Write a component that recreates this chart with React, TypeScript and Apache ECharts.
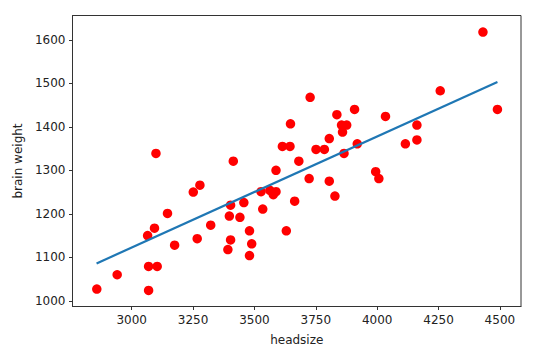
import React, { useEffect, useRef } from "react";
import * as echarts from "echarts";

const headsize = [
  2858, 2941, 3069, 3069, 3104, 3065, 3093, 3099, 3146, 3175,
  3251, 3278, 3267, 3322, 3392, 3403, 3398, 3403, 3414, 3441,
  3457, 3480, 3480, 3489, 3527, 3534, 3563, 3577, 3588, 3588,
  3614, 3645, 3647, 3630, 3664, 3681, 3727, 3723, 3751, 3785,
  3805, 3805, 3828, 3836, 3855, 3876, 3859, 3865, 3908, 3919,
  3994, 4007, 4034, 4115, 4162, 4162, 4257, 4431, 4490,
];
const brainWeight = [
  1027, 1060, 1024, 1079, 1079, 1150, 1167, 1339, 1201, 1128,
  1250, 1266, 1143, 1174, 1118, 1140, 1195, 1220, 1321, 1192,
  1226, 1161, 1104, 1131, 1251, 1211, 1254, 1244, 1251, 1300,
  1355, 1355, 1407, 1161, 1229, 1321, 1468, 1281, 1348, 1348,
  1373, 1275, 1241, 1428, 1404, 1404, 1388, 1339, 1440, 1361,
  1297, 1281, 1424, 1361, 1404, 1370, 1483, 1618, 1440,
];
const fitX = [2857, 4490];
const fitY = [1086, 1503];
const xTicks = [3000, 3250, 3500, 3750, 4000, 4250, 4500];
const yTicks = [1000, 1100, 1200, 1300, 1400, 1500, 1600];

const FONT = "DejaVu Sans";
const INK = "#222";
const SPINE = "#333";

export default function App() {
  const ref = useRef<HTMLDivElement>(null);
  useEffect(() => {
    if (!ref.current) return;
    const chart = echarts.init(ref.current, undefined, { renderer: "svg" });
    const points = headsize.map((x, i) => [x, brainWeight[i]]);
    const fit = fitX.map((x, i) => [x, fitY[i]]);
    chart.setOption({
      animation: false,
      backgroundColor: "#fff",
      grid: {
        left: 72.5,
        right: 14,
        top: 15.5,
        bottom: 52.5,
        show: true,
        borderColor: SPINE,
        borderWidth: 1,
        backgroundColor: "transparent",
      },
      xAxis: {
        type: "value",
        min: 2759,
        max: 4586,
        name: "headsize",
        nameLocation: "middle",
        nameGap: 27,
        nameTextStyle: { fontFamily: FONT, fontSize: 12, color: INK },
        axisLine: { show: true, onZero: false, lineStyle: { color: SPINE, width: 1 } },
        axisTick: { show: true, length: 3.5, lineStyle: { color: SPINE }, customValues: xTicks },
        axisLabel: {
          customValues: xTicks,
          formatter: (v: number) => String(v),
          margin: 7,
          fontFamily: FONT,
          fontSize: 12,
          color: INK,
        },
        splitLine: { show: false },
      },
      yAxis: {
        type: "value",
        min: 987,
        max: 1656,
        name: "brain weight",
        nameLocation: "middle",
        nameGap: 45,
        nameTextStyle: { fontFamily: FONT, fontSize: 12, color: INK },
        axisLine: { show: true, onZero: false, lineStyle: { color: SPINE, width: 1 } },
        axisTick: { show: true, length: 3.5, lineStyle: { color: SPINE }, customValues: yTicks },
        axisLabel: {
          customValues: yTicks,
          formatter: (v: number) => String(v),
          margin: 7,
          fontFamily: FONT,
          fontSize: 12,
          color: INK,
        },
        splitLine: { show: false },
      },
      series: [
        {
          type: "scatter",
          data: points,
          symbol: "circle",
          symbolSize: 9.5,
          itemStyle: { color: "#ff0000", opacity: 1 },
          z: 2,
        },
        {
          type: "line",
          data: fit,
          showSymbol: false,
          symbol: "none",
          lineStyle: { color: "#1f77b4", width: 2.2 },
          z: 3,
        },
      ],
    });
    return () => chart.dispose();
  }, []);
  return (
    <div
      ref={ref}
      style={{ position: "fixed", left: 0, top: 0, width: 535, height: 359, background: "#fff" }}
    />
  );
}
